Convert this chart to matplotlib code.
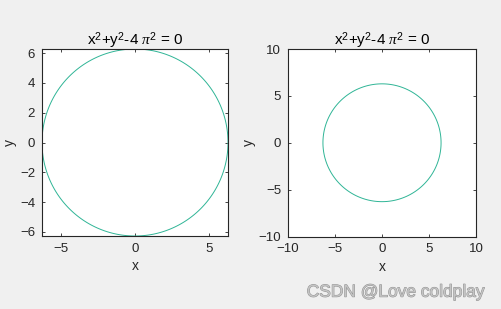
import numpy as np
from matplotlib import pyplot as plt
import matplotlib.patheffects as pe

# implicit curve x^2 + y^2 - 4*pi^2 = 0
coef_c = 4 * np.pi ** 2
left_lim = [-2 * np.pi, 2 * np.pi]
right_lim = [-10, 10]
left_xticks = [-5, 0, 5]
left_yticks = [-6, -4, -2, 0, 2, 4, 6]
right_ticks = [-10, -5, 0, 5, 10]
title = r'x$^2$+y$^2$-4 $\pi^2$ = 0'

line_col = '#2fb596'
txt_col = '#262626'

plt.rcParams['font.family'] = ['Liberation Sans', 'DejaVu Sans']
plt.rcParams['mathtext.fontset'] = 'custom'
plt.rcParams['mathtext.rm'] = 'Liberation Sans'
plt.rcParams['mathtext.it'] = 'Liberation Serif:italic'

fig = plt.figure(figsize=(5.01, 3.09), dpi=100, facecolor='#f0f0f0')


def setup(ax, lim, xt, yt):
    n = 400
    g = np.linspace(lim[0], lim[1], n)
    X, Y = np.meshgrid(g, g)
    Z = X ** 2 + Y ** 2 - coef_c
    ax.contour(X, Y, Z, levels=[0], colors=line_col, linewidths=0.7)
    ax.set_xlim(lim)
    ax.set_ylim(lim)
    ax.set_xticks(xt)
    ax.set_yticks(yt)
    ax.tick_params(direction='in', top=True, right=True, length=2.5, width=0.6,
                   labelsize=9.5, colors=txt_col, pad=5)
    for s in ax.spines.values():
        s.set_linewidth(0.8)
        s.set_color(txt_col)
    ax.set_title(title, fontsize=11, color='k', pad=3)
    ax.set_xlabel('x', fontsize=10, color=txt_col, labelpad=3)
    ax.set_ylabel('y', fontsize=10, color=txt_col, labelpad=2)


ax1 = fig.add_axes([42 / 501, 1 - 236 / 309, 186 / 501, 187 / 309])
setup(ax1, left_lim, left_xticks, left_yticks)

ax2 = fig.add_axes([288 / 501, 1 - 236.5 / 309, 188 / 501, 187.5 / 309])
setup(ax2, right_lim, right_ticks, right_ticks)

fig.text(0.968, 0.03, 'CSDN @Love coldplay', ha='right', va='bottom', fontsize=12.5,
         color='#c4c4c4', family=['Liberation Sans', 'DejaVu Sans'],
         path_effects=[pe.withStroke(linewidth=0.7, foreground='#909090')])

fig.savefig('out.png', dpi=100, facecolor=fig.get_facecolor())
